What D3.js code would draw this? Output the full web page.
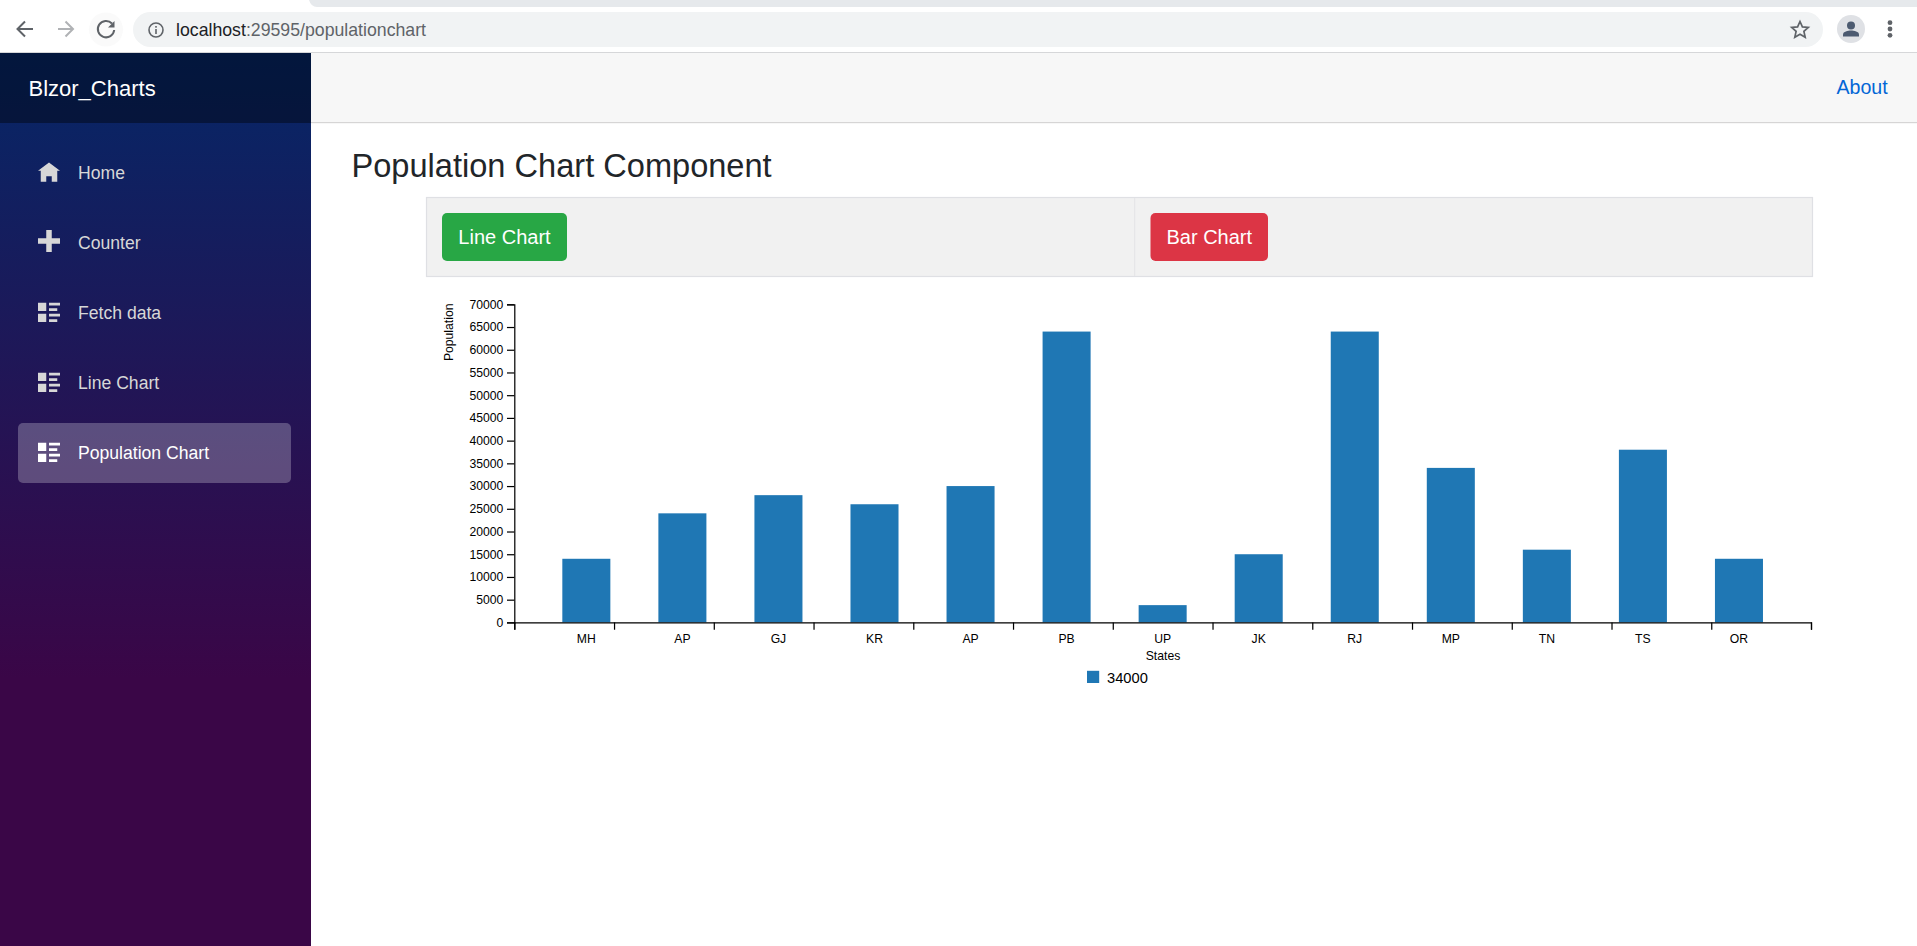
<!DOCTYPE html>
<html><head><meta charset="utf-8">
<script src="https://cdn.jsdelivr.net/npm/d3@7/dist/d3.min.js"></script>
<style>
html,body{margin:0;padding:0;background:#fff;overflow:hidden}
svg{display:block;font-family:"Liberation Sans",Arial,sans-serif}
</style></head><body>
<svg id="page" width="1917" height="946"></svg>
<script>
const states = ["MH","AP","GJ","KR","AP","PB","UP","JK","RJ","MP","TN","TS","OR"];
const population = [14000,24000,28000,26000,30000,64000,3800,15000,64000,34000,16000,38000,14000];
const legendLabels = ["34000"];
const navLabels = ["Home","Counter","Fetch data","Line Chart","Population Chart"];
const navIcons = ["home","plus","list","list","list"];
const buttonLabels = ["Line Chart","Bar Chart"];
const buttonColors = ["#28a745","#dc3545"];
const BAR = "#1f77b4";

const svg = d3.select("#page");
const defs = svg.append("defs");
const grad = defs.append("linearGradient").attr("id","side").attr("x1",0).attr("y1",0).attr("x2",0).attr("y2",1);
grad.append("stop").attr("offset","0%").attr("stop-color","rgb(5,39,103)");
grad.append("stop").attr("offset","70%").attr("stop-color","#3a0647");

function rect(p,x,y,w,h,fill,r){return p.append("rect").attr("x",x).attr("y",y).attr("width",w).attr("height",h).attr("fill",fill).attr("rx",r||0);}
function text(p,x,y,s,size,fill,anchor){return p.append("text").attr("x",x).attr("y",y).attr("font-size",size).attr("fill",fill).attr("text-anchor",anchor||"start").text(s);}

/* browser toolbar */
const bar = svg.append("g");
bar.append("path").attr("d","M309 0H1917V7H317Q311 7 309 0Z").attr("fill","#e6e9ec");
rect(bar,133,12,1690,35,"#f1f3f4",17.5);
rect(bar,0,52,1917,1,"#d6d7d9");
bar.append("circle").attr("cx",106).attr("cy",29.5).attr("r",17).attr("fill","#fafafa");
bar.append("path").attr("d","M33 29H18M25 21.5L17.5 29L25 36.5").attr("fill","none").attr("stroke","#5f6368").attr("stroke-width",2);
bar.append("path").attr("d","M58 29H73M65.5 21.5L73 29L65.5 36.5").attr("fill","none").attr("stroke","#b0b2b5").attr("stroke-width",2);
bar.append("path").attr("d","M112 23.5A8.2 8.2 0 1 0 114.2 30").attr("fill","none").attr("stroke","#5f6368").attr("stroke-width",2);
bar.append("path").attr("d","M114.5 21V27.5H108Z").attr("fill","#5f6368");
bar.append("circle").attr("cx",156).attr("cy",30).attr("r",7).attr("fill","none").attr("stroke","#5f6368").attr("stroke-width",1.6);
rect(bar,155.2,29,1.6,5,"#5f6368"); rect(bar,155.2,26,1.6,1.7,"#5f6368");
const urlText = text(bar,176,36,"",18.2,"#202124");
urlText.attr("textLength",250).attr("lengthAdjust","spacingAndGlyphs");
urlText.append("tspan").text("localhost").attr("fill","#202124");
urlText.append("tspan").text(":29595/populationchart").attr("fill","#5f6368");
bar.append("path").attr("d","M1800 21.5L1802.4 26.9L1808.3 27.5L1803.9 31.4L1805.2 37.2L1800 34.2L1794.8 37.2L1796.1 31.4L1791.7 27.5L1797.6 26.9Z")
  .attr("fill","none").attr("stroke","#5f6368").attr("stroke-width",1.7);
bar.append("circle").attr("cx",1851).attr("cy",29).attr("r",14).attr("fill","#dfe1e5");
bar.append("circle").attr("cx",1851).attr("cy",25.5).attr("r",4).attr("fill","#4c5a70");
bar.append("path").attr("d","M1843 36.5V34.5C1843 31.5 1848 30.5 1851 30.5C1854 30.5 1859 31.5 1859 34.5V36.5Z").attr("fill","#4c5a70");
bar.selectAll("circle.dot").data([22.7,29,35.3]).join("circle").attr("class","dot").attr("cx",1890).attr("cy",d=>d).attr("r",2.4).attr("fill","#5f6368");

/* top row */
rect(svg,311,53,1606,69.5,"#f7f7f7");
rect(svg,311,122,1606,1.2,"#d6d5d5");
text(svg,1836.5,94,"About",19.6,"#0366d6");

/* sidebar */
const sideBar = svg.append("g");
rect(sideBar,0,53,311,893,"url(#side)");
rect(sideBar,0,53,311,70,"rgba(0,0,0,0.4)");
text(sideBar,28.5,96,"Blzor_Charts",22,"#fff");
const iconPaths = {
  home:"M4 0l-4 3h1v4h2v-2h2v2h2v-4.03l1 .03-4-3z",
  plus:"M3 0v3h-3v2h3v3h2v-3h3v-2h-3v-3h-2z",
  list:"M0 0v3h3v-3h-3zm4 0v1h4v-1h-4zm0 2v1h3v-1h-3zm-4 2v3h3v-3h-3zm4 0v1h4v-1h-4zm0 2v1h3v-1h-3z"
};
const iconTop = {home:-10,plus:-12.5,list:-9.7};
rect(sideBar,18,423,273,60,"rgba(255,255,255,0.25)",5);
navLabels.forEach((label,i)=>{
  const cy = 172.5+70*i, col = i===4 ? "#fff" : "#d7d7d7";
  sideBar.append("path").attr("d",iconPaths[navIcons[i]]).attr("fill",col)
    .attr("transform",`translate(38,${cy+iconTop[navIcons[i]]}) scale(2.75)`);
  text(sideBar,78,cy+6.2,label,17.6,col);
});

/* heading and button strip */
text(svg,351.5,177,"Population Chart Component",32.6,"#212529");
rect(svg,426.5,197.5,1386,79,"#f1f1f1").attr("stroke","#dfe0e4").attr("stroke-width",1.2);
rect(svg,1134,198,1.2,78,"#e6e6e8");
const btnX = [442,1150.5], btnW = [125,117.5];
buttonLabels.forEach((b,i)=>{
  rect(svg,btnX[i],213,btnW[i],48,buttonColors[i],5);
  text(svg,btnX[i]+btnW[i]/2,244,b,20,"#fff","middle");
});

/* chart */
const k = 1.2226;
const plotLeft = 514.3, plotRight = 1811, plotTop = 304.3, plotBottom = 622.4;
const x = d3.scaleBand().domain(d3.range(states.length)).range([plotLeft,plotRight]).padding(0.5).align(0.5);
const xEdges = d3.scaleLinear().domain([0,states.length]).range([plotLeft,plotRight]);
const y = d3.scaleLinear().domain([0,70000]).range([plotBottom,plotTop]);
const chart = svg.append("g");

chart.selectAll("rect.bar").data(population).join("rect").attr("class","bar")
  .attr("x",(d,i)=>x(i)).attr("width",x.bandwidth())
  .attr("y",d=>y(d)).attr("height",d=>y(0)-y(d)).attr("fill",BAR);

const gy = chart.append("g").attr("transform",`translate(${plotLeft},0)`)
  .call(d3.axisLeft(y).tickValues(d3.range(0,70001,5000)).tickFormat(d3.format("d")).tickSize(6*k).tickPadding(3*k));
const gx = chart.append("g").attr("transform",`translate(0,${plotBottom})`)
  .call(d3.axisBottom(xEdges).tickValues(d3.range(states.length+1)).tickFormat("").tickSize(6*k).tickPadding(3*k));
[gy,gx].forEach(g=>{
  g.attr("font-family",null).attr("font-size",12.2);
  g.selectAll("path,line").attr("stroke","#000").attr("stroke-width",k);
  g.selectAll("text").attr("fill","#000");
});
chart.selectAll("text.state").data(states).join("text").attr("class","state")
  .attr("x",(d,i)=>x(i)+x.bandwidth()/2).attr("y",643)
  .attr("text-anchor","middle").attr("font-size",12.2).attr("fill","#000").text(d=>d);

text(chart,1163,660,"States",12.2,"#000","middle");
chart.append("text").attr("transform","translate(453,303.5) rotate(-90)").attr("text-anchor","end")
  .attr("font-size",12.2).attr("fill","#000").text("Population");
chart.selectAll("rect.key").data(legendLabels).join("rect").attr("class","key")
  .attr("x",1087).attr("y",670.8).attr("width",12.2).attr("height",12.2).attr("fill",BAR);
chart.selectAll("text.keyl").data(legendLabels).join("text").attr("class","keyl")
  .attr("x",1107).attr("y",682.7).attr("font-size",14.7).attr("fill","#000").text(d=>d);
</script>
</body></html>
